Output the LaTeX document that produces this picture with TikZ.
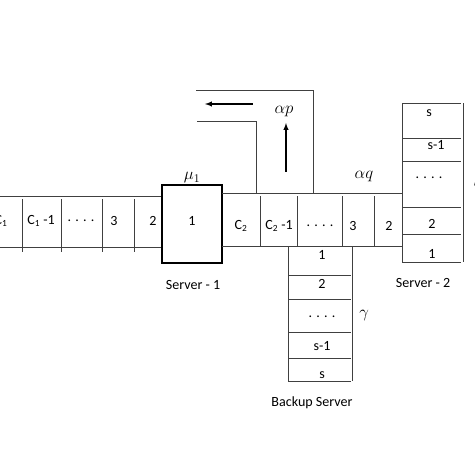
\documentclass[tikz,border=0pt]{standalone}
\usepackage{fontspec}
\setmainfont{Carlito}
\usetikzlibrary{arrows}
\begin{document}
\begin{tikzpicture}[scale=0.03]
                \tikzstyle{every node}+=[inner sep=0pt, font=\fontsize{12}{14}\selectfont]
                \tikzstyle{rate}=[font=\fontsize{14.5}{16}\selectfont]
                \tikzstyle{cell}=[draw=black!75, line width=0.6pt]
                \tikzstyle{server}=[draw=black, line width=1.1pt]
                \useasboundingbox (0,0) rectangle (474,-474);
                % queue in front of server 1
                \draw [cell] (0,-196) -- (162,-196);
                \draw [cell] (0,-247) -- (162,-247);
                \foreach \x in {22,61,102,134}
                    \draw [cell] (\x,-199) -- (\x,-252);
                \node (cone) at (1,-221) {C\textsubscript{1}};
                \node (coneless) at (41,-221) {C\textsubscript{1} -1};
                \node (qonedots) at (81,-221) {. . . .};
                \node (qonethree) at (114,-221) {3};
                \node (qonetwo) at (153,-221) {2};
                % server 1
                \draw [server] (162,-185) rectangle (222,-263);
                \node (sone) at (192,-221) {1};
                \node [rate] (muone) at (192,-178) {$\mu_1$};
                \node (sonelabel) at (193,-285) {Server - 1};
                % queue in front of server 2
                \draw [cell] (222,-193) -- (402,-193);
                \draw [cell] (222,-246) -- (402,-246);
                \foreach \x in {260,297,342,374}
                    \draw [cell] (\x,-196) -- (\x,-246);
                \node (ctwo) at (241,-226) {C\textsubscript{2}};
                \node (ctwoless) at (279,-226) {C\textsubscript{2} -1};
                \node (qtwodots) at (320,-226) {. . . .};
                \node (qtwothree) at (353,-226) {3};
                \node (qtwotwo) at (389,-226) {2};
                \node [rate] (aq) at (364,-177) {$\alpha q$};
                % feedback path
                \draw [cell] (196,-90) -- (313,-90) -- (313,-193);
                \draw [cell] (197,-121) -- (256,-121) -- (256,-193);
                \coordinate (backstart) at (253,-104);
                \coordinate (backend) at (205,-104);
                \draw [-latex, line width=1pt] (backstart) -- (backend);
                \coordinate (upstart) at (286,-172);
                \coordinate (upend) at (286,-123);
                \draw [-latex, line width=1pt] (upstart) -- (upend);
                \node [rate] (ap) at (284,-112) {$\alpha p$};
                % server 2
                \draw [cell] (402,-103) -- (402,-262);
                \draw [cell] (463,-103) -- (463,-262);
                \foreach \y in {103,138,161,207,234,262}
                    \draw [cell] (402,-\y) -- (461,-\y);
                \node (stwos) at (429,-113) {s};
                \node (stwosless) at (436,-145) {s-1};
                \node (stwodots) at (429,-178) {. . . .};
                \node (stwotwo) at (432,-224) {2};
                \node (stwoone) at (432,-254) {1};
                \node [rate] (mutwo) at (482,-181) {$\mu_2$};
                \node (stwolabel) at (423,-283) {Server - 2};
                % backup server
                \draw [cell] (288,-246) -- (288,-381);
                \draw [cell] (352,-246) -- (352,-381);
                \foreach \y in {275,299,332,358,381}
                    \draw [cell] (288,-\y) -- (351,-\y);
                \node (bone) at (322,-255) {1};
                \node (btwo) at (322,-284) {2};
                \node (bdots) at (322,-317) {. . . .};
                \node (bsless) at (322,-346) {s-1};
                \node (bs) at (322,-375) {s};
                \node [rate] (gam) at (364,-316) {$\gamma$};
                \node (blabel) at (312,-403) {Backup Server};
            \end{tikzpicture}
\end{document}
